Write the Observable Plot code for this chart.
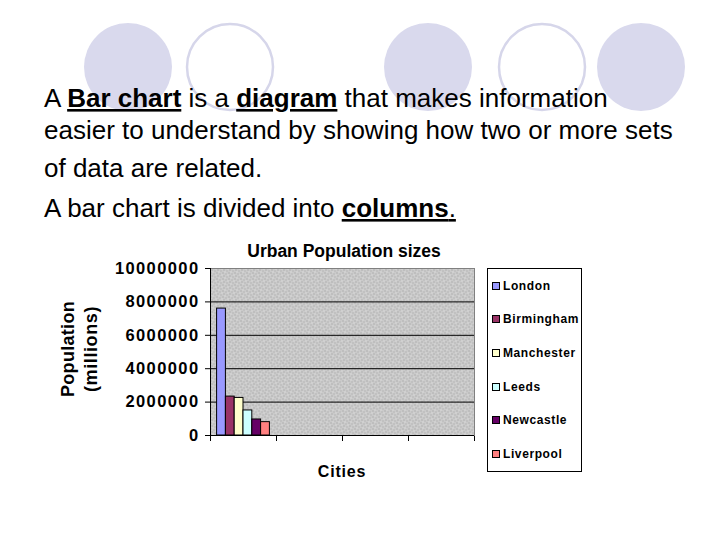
<!DOCTYPE html>
<html>
<head>
<meta charset="utf-8">
<script src="https://cdn.jsdelivr.net/npm/d3@7"></script>
<script src="https://cdn.jsdelivr.net/npm/@observablehq/plot@0.6"></script>
<style>
  html, body { margin: 0; padding: 0; background: #fff; }
  #page { position: relative; width: 720px; height: 540px; overflow: hidden; font-family: "Liberation Sans", Arial, sans-serif; }
  #chart { position: absolute; left: 0; top: 230px; }
  #chart svg text { letter-spacing: 1.4px; font-size: 16.5px !important; font-weight: bold; }
  #overlay { position: absolute; left: 0; top: 0; pointer-events: none; }
  #legend { position: absolute; left: 487px; top: 268px; width: 95px; height: 204px; box-sizing: border-box;
            border: 1px solid #000; background: #fff; display: flex; flex-direction: column;
            justify-content: space-around; padding: 0 0 0 4px; }
  .item { display: flex; align-items: center; font: bold 12px "Liberation Sans", Arial, sans-serif;
          letter-spacing: 0.6px; color: #000; white-space: nowrap; }
  .sw { width: 6px; height: 6px; border: 1px solid #000; margin-right: 3px; flex: none; }
</style>
</head>
<body>
<div id="page">
  <div id="chart"></div>
  <div id="legend"></div>
  <svg id="overlay" width="720" height="540" xmlns="http://www.w3.org/2000/svg">
    <defs>
      <pattern id="dots" width="6" height="6" patternUnits="userSpaceOnUse">
        <rect width="6" height="6" fill="#cacaca"/>
        <rect x="0" y="0" width="1" height="1" fill="#9a9a9a"/>
        <rect x="3" y="1" width="1" height="1" fill="#a4a4a4"/>
        <rect x="1" y="3" width="1" height="1" fill="#9a9a9a"/>
        <rect x="4" y="4" width="1" height="1" fill="#a4a4a4"/>
        <rect x="5" y="2" width="1" height="1" fill="#e2e2e2"/>
        <rect x="2" y="5" width="1" height="1" fill="#e2e2e2"/>
      </pattern>
    </defs>
    <g>
      <circle cx="128" cy="67" r="44" fill="#d9d9ed"/>
      <circle cx="230" cy="67" r="43" fill="none" stroke="#d6d6ea" stroke-width="2.5"/>
      <circle cx="428" cy="67" r="44" fill="#d9d9ed"/>
      <circle cx="542" cy="67" r="43" fill="none" stroke="#d6d6ea" stroke-width="2.5"/>
      <circle cx="641" cy="67" r="44" fill="#d9d9ed"/>
    </g>
    <g font-family="'Liberation Sans', Arial, sans-serif" font-size="26" fill="#000">
      <text x="44" y="107">A <tspan font-weight="bold" text-decoration="underline">Bar chart</tspan> is a <tspan font-weight="bold" text-decoration="underline">diagram</tspan> that makes information</text>
      <text x="44" y="139">easier to understand by showing how two or more sets</text>
      <text x="44" y="177">of data are related.</text>
      <text x="44" y="217">A bar chart is divided into <tspan font-weight="bold" text-decoration="underline">columns</tspan><tspan text-decoration="underline">.</tspan></text>
    </g>
    <g font-family="'Liberation Sans', Arial, sans-serif" font-weight="bold" fill="#000">
      <text x="344" y="257" font-size="17.5" text-anchor="middle">Urban Population sizes</text>
      <text x="342" y="477" font-size="16" letter-spacing="0.8" text-anchor="middle">Cities</text>
      <text transform="translate(74,349) rotate(-90)" font-size="18" letter-spacing="0.3" text-anchor="middle">Population</text>
      <text transform="translate(97,349) rotate(-90)" font-size="18" letter-spacing="0.6" text-anchor="middle">(millions)</text>
    </g>
  </svg>
</div>
<script>
// ---- data ----
const cities = ["London", "Birmingham", "Manchester", "Leeds", "Newcastle", "Liverpool"];
const populations = [7600000, 2330000, 2250000, 1500000, 960000, 800000];
const colors = ["#9999ff", "#993366", "#ffffcc", "#ccffff", "#660066", "#ff8080"];
const categories = ["Cities 1", "Cities 2", "Cities 3", "Cities 4"]; // unlabeled category slots on x
const cityCategory = 0; // all cities sit in the first category
const yTicks = [0, 2000000, 4000000, 6000000, 8000000, 10000000];
const gapWidth = 1.5; // Excel-style gap width between clusters (150%)

// ---- table ----
const barW = 1 / (cities.length + gapWidth);
const bars = cities.map((city, i) => ({
  city,
  population: populations[i],
  x1: cityCategory + barW * gapWidth / 2 + i * barW,
  x2: cityCategory + barW * gapWidth / 2 + (i + 1) * barW
}));
const boundaries = d3.range(categories.length + 1);

const chart = Plot.plot({
  width: 720,
  height: 260,
  marginLeft: 210,
  marginRight: 246,
  marginTop: 38,
  marginBottom: 55,
  style: { background: "transparent", fontFamily: "'Liberation Sans', Arial, sans-serif", fontSize: "16.5px", fontWeight: "bold", color: "#000" },
  x: { domain: [0, categories.length], ticks: boundaries, tickFormat: () => "", tickSize: 6, label: null },
  y: { domain: [0, 10000000], ticks: yTicks, tickFormat: d3.format("d"), tickSize: 5, tickPadding: 6, label: null },
  color: { domain: cities, range: colors },
  marks: [
    Plot.frame({ fill: "url(#dots)", stroke: "#808080" }),
    Plot.ruleY(yTicks.slice(1, -1), { stroke: "#000", strokeWidth: 1 }),
    Plot.rectY(bars, { x1: "x1", x2: "x2", y: "population", fill: "city", stroke: "#000", strokeWidth: 1 }),
    Plot.ruleY([0], { stroke: "#000" }),
    Plot.ruleX([0], { stroke: "#000" })
  ]
});
document.getElementById("chart").appendChild(chart);

// ---- legend ----
const colorScale = chart.scale("color");
const legend = d3.select("#legend");
cities.forEach(city => {
  const item = legend.append("div").attr("class", "item");
  item.append("div").attr("class", "sw").style("background", colorScale.apply(city));
  item.append("span").text(city);
});
</script>
</body>
</html>
